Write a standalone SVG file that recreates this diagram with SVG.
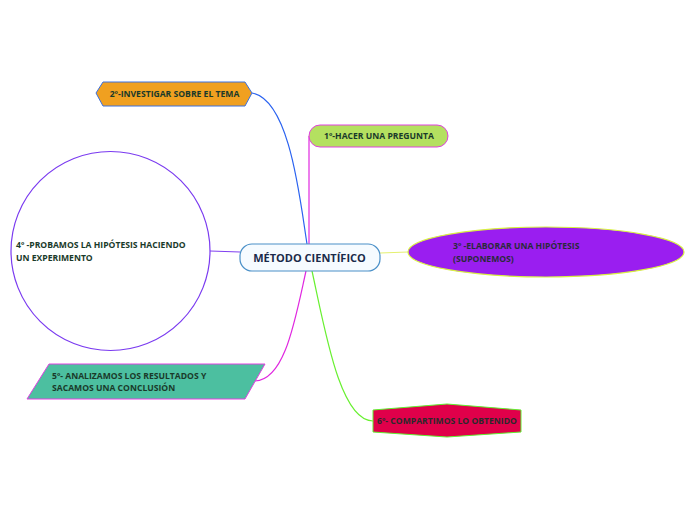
<svg xmlns="http://www.w3.org/2000/svg" width="696" height="520" viewBox="0 0 696 520">
<style>
.t{font-family:"Open Sans","Noto Sans","Liberation Sans",sans-serif;font-weight:bold;font-size:8.6px;fill:#1a3a2a}
.c{fill:none;stroke-width:1.2}
</style>
<rect width="696" height="520" fill="#ffffff"/>
<g id="connectors">
<path class="c" d="M307,244 C300,200 290,100 252,93" stroke="#2a62f0"/>
<path class="c" d="M309,244 L309,136" stroke="#e028e0"/>
<path class="c" d="M380,253 L408,252" stroke="#e4f070"/>
<path class="c" d="M240,252 L210,251" stroke="#8040f0"/>
<path class="c" d="M306,271 C295,320 285,380 255,381" stroke="#e028e0"/>
<path class="c" d="M312,271 C325,330 340,421 373,421" stroke="#68f030"/>
</g>
<g id="n2">
<polygon points="96,93 103,82 245,82 252,93 245,106 103,106" fill="#f0a020" stroke="#3a70e0" stroke-width="1"/>
<text class="t" x="174.5" y="96.5" text-anchor="middle">2º-INVESTIGAR SOBRE EL TEMA</text>
</g>
<g id="n1">
<rect x="309" y="125" width="139" height="22" rx="11" fill="#b4e060" stroke="#e040e0" stroke-width="1"/>
<text class="t" x="379" y="139" text-anchor="middle">1º-HACER UNA PREGUNTA</text>
</g>
<g id="n3">
<ellipse cx="546" cy="252" rx="138" ry="25" fill="#9a1ef0" stroke="#d8f040" stroke-width="1.2"/>
<text class="t" x="453" y="249" style="fill:#2a2a3a">3º -ELABORAR UNA HIPÓTESIS</text>
<text class="t" x="453" y="262" style="fill:#2a2a3a">(SUPONEMOS)</text>
</g>
<g id="n4">
<circle cx="110.5" cy="251" r="99.5" fill="#ffffff" stroke="#7a3af0" stroke-width="1.2"/>
<text class="t" x="16" y="248">4º -PROBAMOS LA HIPÓTESIS HACIENDO</text>
<text class="t" x="16" y="261">UN EXPERIMENTO</text>
</g>
<g id="n5">
<polygon points="49,364 265,364 245,399 27,399" fill="#4cbfa0" stroke="#e040e0" stroke-width="1"/>
<text class="t" x="52" y="379">5º- ANALIZAMOS LOS RESULTADOS Y</text>
<text class="t" x="52" y="391">SACAMOS UNA CONCLUSIÓN</text>
</g>
<g id="n6">
<polygon points="373,410 447,404 521,410 521,432 447,437 373,432" fill="#e0004a" stroke="#60f030" stroke-width="1"/>
<text class="t" x="447" y="424" text-anchor="middle" style="fill:#2a2a2a">6º- COMPARTIMOS LO OBTENIDO</text>
</g>
<g id="center">
<rect x="240" y="244" width="140" height="27" rx="12" fill="#f6fbff" stroke="#4a90c8" stroke-width="1.2"/>
<text x="309.5" y="261.5" text-anchor="middle" font-family="'Open Sans','Noto Sans','Liberation Sans',sans-serif" font-weight="bold" font-size="11" fill="#1a2a4a">MÉTODO CIENTÍFICO</text>
</g>
</svg>
